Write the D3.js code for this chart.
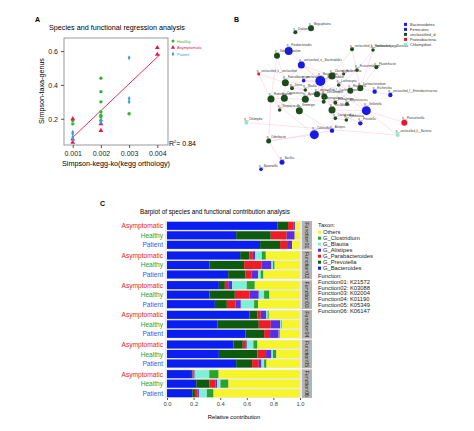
<!DOCTYPE html>
<html><head><meta charset="utf-8">
<script src="https://cdn.jsdelivr.net/npm/d3@7"></script>
<style>body{margin:0;background:#fff}text{font-family:"Liberation Sans",Arial,sans-serif}</style>
</head><body><svg id="c" width="474" height="431"></svg>
<script>
// ---------- Panel A data ----------
const groupsA = ["Healthy","Asymptomatic","Patient"];
const colorsA = ["#2db82d","#e8174a","#3a9fe0"];
const healthyX = [0.001,0.001,0.002,0.002,0.002,0.002,0.002,0.002,0.002,0.003];
const healthyY = [0.19,0.17,0.44,0.36,0.30,0.24,0.22,0.21,0.19,0.23];
const asymX = [0.001,0.001,0.001,0.002,0.002,0.004,0.004];
const asymY = [0.20,0.08,0.06,0.17,0.13,0.62,0.58];
const patientX = [0.001,0.001,0.001,0.001,0.002,0.002,0.003,0.003,0.003];
const patientY = [0.12,0.11,0.09,0.08,0.18,0.19,0.56,0.32,0.30];
const fitX = [0.001,0.0041], fitY = [0.09,0.58];
const xTicksA = [0.001,0.002,0.003,0.004], yTicksA = [0.2,0.4,0.6];

// ---------- Panel B data ----------
const phyla = ["Bacteroidetes","Firmicutes","unclassified_d","Proteobacteria","Chlamydiae"];
const phylaCol = ["#1a1ae6","#2222dd","#1a4d1a","#e8172e","#8fe8c8"];
const nodeName = ["g__Dialister","g__Megasphaera","g__Parabacteroides","g__Subdoligranulum","g__unclassified_o__Bacteroidales","g__unclassified_k__unclassified","g__unclassified_f__Ruminococcaceae","g__unclassified_c__Clostridia","g__Flavonifractor","g__Fusicatenibacter","g__Holdemania","g__Clostridium","g__Bacteroides","g__unclassified_o__Bacteroidales","g__Lachnoclostridium","g__Roseburia","g__Lachnospira","g__Escherichia","g__unclassified_f__Enterobacteriaceae","g__Faecalibacterium","g__Dorea","g__Blautia","g__unclassified_f__Lachnospiraceae","g__Ruminococcus","g__Coprococcus","g__Agathobacter","g__Anaerostipes","g__Eubacterium","g__Butyricicoccus","g__Oscillibacter","g__Gemmiger","g__Streptococcus","g__Lactobacillus","g__Romboutsia","g__Veillonella","g__Prevotella","g__Parasutterella","g__unclassified_k__Bacteria","g__Chlamydia","g__Collinsella","g__Alistipes","g__Odoribacter","g__Bacillus","g__Barnesiella","g__Desulfovibrio"];
const nodeX = [175,222,155,120,193,65,345,408,418,360,320,285,250,200,370,340,305,413,460,145,165,205,240,102,142,205,260,295,330,285,187,128,295,328,388,370,502,482,28,232,285,95,135,72,262];
const nodeY = [97,85,153,167,195,222,148,150,202,210,222,228,243,242,265,272,255,275,285,248,265,270,283,297,295,298,305,308,312,330,332,330,355,360,332,370,368,405,368,404,392,423,487,508,290];
const nodeSize = [2,3,4,3,3.5,1.5,2,1.8,2,1.8,1.6,3.5,5,1.8,3,3,1.8,2.2,2.2,3.5,2,1.8,3,3.5,3.5,3.5,2,2,2,3.5,3.5,1.8,1.8,1.8,4.5,2.2,3,2,2,4.5,2.2,2.5,2.5,1.8,3];
const nodePhy = [2,2,0,2,0,3,2,2,2,2,2,2,0,0,2,2,2,0,0,2,2,2,2,2,2,2,2,2,2,2,2,2,2,2,0,0,3,4,4,0,0,2,0,0,2];
const edges = [[0,1],[2,3],[2,12],[3,19],[3,23],[4,12],[4,19],[4,11],[5,19],[5,23],[6,14],[6,11],[7,9],[7,14],[8,14],[9,11],[10,12],[11,12],[11,15],[12,13],[12,21],[12,22],[12,26],[12,29],[14,15],[14,17],[15,16],[15,27],[16,22],[17,18],[19,20],[19,24],[19,21],[20,21],[21,25],[22,27],[23,24],[23,39],[23,41],[24,25],[24,30],[25,26],[26,27],[27,28],[28,29],[29,34],[30,40],[31,24],[32,33],[33,34],[34,36],[34,37],[34,12],[35,29],[37,38],[39,41],[40,41],[40,29],[41,42],[42,43],[22,11],[25,11],[44,27],[44,12],[19,12],[23,30],[20,25],[15,34],[10,27],[9,16]];

// ---------- Panel C data ----------
const taxa = ["G_Bacteroides","G_Prevotella","G_Parabacteroides","G_Alistipes","G_Blautia","G_Clostridium","Others"];
const taxaCol = ["#0a1ef0","#0e5a0e","#ee1c24","#5a2de0","#7ff0d4","#2aa32a","#f5f52a"];
const functions = ["Function01","Function02","Function03","Function04","Function05","Function06"];
const funcKO = ["K21572","K03088","K02004","K01190","K05349","K06147"];
const groupsC = ["Asymptomatic","Healthy","Patient"];
const groupColC = ["#e8172e","#2aa32a","#2a5ef0"];
// values per function, per group: Bacteroides, Prevotella, Parabacteroides, Alistipes, Blautia, Clostridium (Others = remainder)
const f01 = [[0.83,0.08,0.04,0.012,0,0],[0.52,0.26,0.12,0.06,0,0],[0.70,0.15,0.06,0.03,0,0]];
const f02 = [[0.55,0.07,0.025,0.018,0.05,0.03],[0.32,0.26,0.13,0.075,0.012,0.012],[0.46,0.13,0.045,0.05,0.02,0.02]];
const f03 = [[0.39,0.045,0.025,0.03,0.11,0.06],[0.32,0.19,0.11,0.07,0.04,0.04],[0.36,0.09,0.065,0.04,0.10,0.03]];
const f04 = [[0.62,0.06,0.025,0.04,0.012,0.008],[0.38,0.31,0.09,0.07,0.008,0.005],[0.59,0.14,0.045,0.065,0.005,0.005]];
const f05 = [[0.50,0.07,0.018,0.012,0.05,0.03],[0.39,0.29,0.065,0.04,0.012,0.025],[0.52,0.12,0.05,0.02,0.02,0.018]];
const f06 = [[0.18,0.012,0.008,0.008,0.11,0.07],[0.22,0.10,0.045,0.012,0.025,0.06],[0.19,0.02,0.02,0.01,0.06,0.05]];
const funcData = [f01,f02,f03,f04,f05,f06];
const xTicksC = [0,0.2,0.4,0.6,0.8,1.0];

const svg = d3.select("#c");
svg.append("rect").attr("width",474).attr("height",431).attr("fill","#fff");

// ===== Panel A =====
const gA = svg.append("g");
gA.append("text").attr("x",35).attr("y",22).attr("font-size",7).attr("font-weight","bold").text("A");
gA.append("text").attr("x",117).attr("y",30).attr("font-size",7.2).attr("text-anchor","middle").text("Species and functional regression analysis");
const xA = d3.scaleLinear().domain([0.00069,0.00438]).range([64,168]);
const yA = d3.scaleLinear().domain([0.045,0.677]).range([145,38]);
gA.append("rect").attr("x",64).attr("y",38).attr("width",104).attr("height",107).attr("fill","#fff").attr("stroke","#999").attr("stroke-width",1);
const axA = gA.append("g").attr("transform","translate(0,145)").call(d3.axisBottom(xA).tickValues(xTicksA).tickFormat(d3.format(".3f")).tickSize(3));
const ayA = gA.append("g").attr("transform","translate(64,0)").call(d3.axisLeft(yA).tickValues(yTicksA).tickFormat(d3.format(".1f")).tickSize(3));
[axA,ayA].forEach(a=>{a.select(".domain").remove();a.selectAll("line").attr("stroke","#555");a.selectAll("text").attr("font-size",7).attr("fill","#222");});
gA.append("text").attr("transform","translate(44,91) rotate(-90)").attr("text-anchor","middle").attr("font-size",7.2).text("Simpson-taxa-genus");
gA.append("text").attr("x",116).attr("y",166).attr("text-anchor","middle").attr("font-size",7.2).text("Simpson-kegg-ko(kegg orthology)");
gA.append("text").attr("x",169).attr("y",146).attr("font-size",7).html('R<tspan dy="-3" font-size="4">2</tspan><tspan dy="3">= 0.84</tspan>');
gA.append("line").attr("x1",xA(fitX[0])).attr("y1",yA(fitY[0])).attr("x2",xA(fitX[1])).attr("y2",yA(fitY[1])).attr("stroke","#e8174a").attr("stroke-width",0.9);
const sym = d3.symbol().size(9);
healthyX.forEach((x,i)=>gA.append("circle").attr("cx",xA(x)).attr("cy",yA(healthyY[i])).attr("r",1.7).attr("fill",colorsA[0]));
asymX.forEach((x,i)=>gA.append("path").attr("d",d3.symbol(d3.symbolTriangle,10)()).attr("transform",`translate(${xA(x)},${yA(asymY[i])})`).attr("fill",colorsA[1]));
patientX.forEach((x,i)=>gA.append("path").attr("d",d3.symbol(d3.symbolDiamond,7)()).attr("transform",`translate(${xA(x)},${yA(patientY[i])})`).attr("fill",colorsA[2]));
groupsA.forEach((g,i)=>{
  const y=41+i*6.5;
  if(i==0) gA.append("circle").attr("cx",173).attr("cy",y).attr("r",1.5).attr("fill",colorsA[0]);
  else if(i==1) gA.append("path").attr("d",d3.symbol(d3.symbolTriangle,8)()).attr("transform",`translate(173,${y})`).attr("fill",colorsA[1]);
  else gA.append("path").attr("d",d3.symbol(d3.symbolDiamond,6)()).attr("transform",`translate(173,${y})`).attr("fill",colorsA[2]);
  gA.append("text").attr("x",177).attr("y",y+1.5).attr("font-size",4).attr("fill",colorsA[i]).text(g);
});

// ===== Panel B =====
const gB = svg.append("g");
gB.append("text").attr("x",234).attr("y",22).attr("font-size",7).attr("font-weight","bold").text("B");
const xB = d3.scaleLinear().domain([0,711]).range([237,474]);
const yB = d3.scaleLinear().domain([0,570]).range([0,190]);
edges.forEach(([a,b])=>gB.append("line").attr("x1",xB(nodeX[a])).attr("y1",yB(nodeY[a])).attr("x2",xB(nodeX[b])).attr("y2",yB(nodeY[b])).attr("stroke","#f2b6d6").attr("stroke-width",0.4));
nodeX.forEach((x,i)=>{
  gB.append("circle").attr("cx",xB(x)).attr("cy",yB(nodeY[i])).attr("r",nodeSize[i]).attr("fill",phylaCol[nodePhy[i]]);
  gB.append("text").attr("x",xB(x)-2).attr("y",yB(nodeY[i])-nodeSize[i]-0.8).attr("font-size",2.8).attr("fill","#333").text(nodeName[i]);
});
phyla.forEach((p,i)=>{
  const y=24.5+i*5;
  gB.append("rect").attr("x",404).attr("y",y-1.6).attr("width",3).attr("height",3).attr("fill",phylaCol[i]);
  gB.append("text").attr("x",410).attr("y",y+1.5).attr("font-size",4).attr("fill","#333").text(p);
});

// ===== Panel C =====
const gC = svg.append("g");
gC.append("text").attr("x",100).attr("y",206).attr("font-size",7).attr("font-weight","bold").text("C");
gC.append("text").attr("x",140).attr("y",214).attr("font-size",6.3).text("Barplot of species and functional contribution analysis");
const xC = d3.scaleLinear().domain([0,1]).range([167,300]);
const fTop = d3.scaleBand().domain(functions).range([221,398]).paddingInner(0.035);
const fh = fTop.bandwidth();
const yIn = d3.scaleBand().domain(groupsC).range([0,fh]).paddingInner(0.15).paddingOuter(0.08);
functions.forEach((f,fi)=>{
  const y0=fTop(f);
  gC.append("rect").attr("x",165).attr("y",y0).attr("width",137).attr("height",fh).attr("fill","#ebebeb");
  gC.append("rect").attr("x",302).attr("y",y0).attr("width",10).attr("height",fh).attr("fill","#b3b3b3");
  gC.append("text").attr("transform",`translate(304.5,${y0+fh/2}) rotate(90)`).attr("text-anchor","middle").attr("font-size",5.3).attr("fill","#1a1a1a").text(f);
  groupsC.forEach((g,gi)=>{
    const vals=funcData[fi][gi].slice();
    vals.push(1-d3.sum(vals));
    let acc=0;
    const y=y0+yIn(g);
    vals.forEach((v,k)=>{
      gC.append("rect").attr("x",xC(acc)).attr("y",y).attr("width",Math.max(0,xC(acc+v)-xC(acc))).attr("height",yIn.bandwidth()).attr("fill",taxaCol[k]);
      acc+=v;
    });
    gC.append("text").attr("x",163).attr("y",y+yIn.bandwidth()/2+2.5).attr("text-anchor","end").attr("font-size",6.6).attr("fill",groupColC[gi]).text(g);
  });
});
const axC = gC.append("g").attr("transform","translate(0,398)").call(d3.axisBottom(xC).tickValues(xTicksC).tickFormat(d3.format(".1f")).tickSize(2));
axC.select(".domain").remove();
axC.selectAll("line").attr("stroke","#555");
axC.selectAll("text").attr("font-size",5.8).attr("fill","#444").attr("dy","0.6em");
gC.append("text").attr("x",234).attr("y",419).attr("text-anchor","middle").attr("font-size",5.8).text("Relative contribution");
gC.append("text").attr("x",318).attr("y",227).attr("font-size",5.8).attr("fill","#222").text("Taxon:");
const legOrder=[6,5,4,3,2,1,0];
legOrder.forEach((k,i)=>{
  const y=233+i*6;
  gC.append("rect").attr("x",318).attr("y",y-2.3).attr("width",3).attr("height",3).attr("fill",taxaCol[k]);
  gC.append("text").attr("x",323).attr("y",y+1.3).attr("font-size",5.8).attr("fill","#222").text(k==6?"Others":taxa[k]);
});
gC.append("text").attr("x",318).attr("y",278).attr("font-size",5.8).attr("fill","#222").text("Function:");
functions.forEach((f,i)=>gC.append("text").attr("x",318).attr("y",284+i*5.7).attr("font-size",5.8).attr("fill","#222").text(f+": "+funcKO[i]));
</script></body></html>
